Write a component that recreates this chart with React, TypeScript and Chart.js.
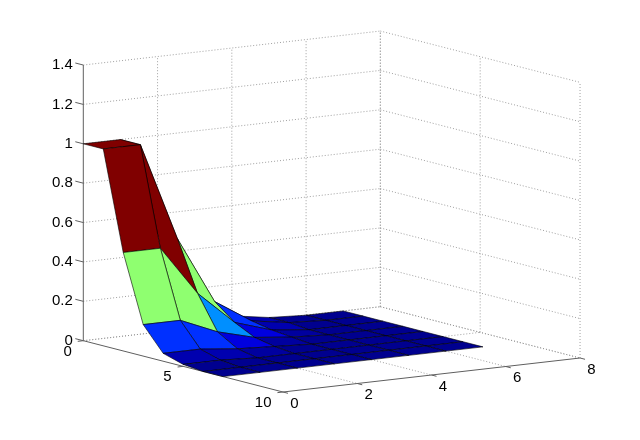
import React, { useEffect, useRef } from "react";
import { Chart, registerables } from "chart.js";

Chart.register(...registerables);

// ---- data ----
const X_VALUES = [0, 1, 2, 3, 4, 5, 6, 7];
const Y_VALUES = [0, 1, 2, 3, 4, 5, 6, 7];
const Z_ROW_0 = [1, 1, 0.5, 0.16, 0.04, 0.01, 0, 0];
const Z_ROW_1 = [1, 1, 0.5, 0.16, 0.04, 0.01, 0, 0];
const Z_ROW_2 = [0.5, 0.5, 0.25, 0.08, 0.02, 0, 0, 0];
const Z_ROW_3 = [0.16, 0.16, 0.08, 0.03, 0.01, 0, 0, 0];
const Z_ROW_4 = [0.04, 0.04, 0.02, 0.01, 0, 0, 0, 0];
const Z_ROW_5 = [0.01, 0.01, 0, 0, 0, 0, 0, 0];
const Z_ROW_6 = [0, 0, 0, 0, 0, 0, 0, 0];
const Z_ROW_7 = [0, 0, 0, 0, 0, 0, 0, 0];
const Z_ROWS = [Z_ROW_0, Z_ROW_1, Z_ROW_2, Z_ROW_3, Z_ROW_4, Z_ROW_5, Z_ROW_6, Z_ROW_7];

const X_TICKS = [0, 2, 4, 6, 8];
const Y_TICKS = [0, 5, 10];
const Z_TICKS = [0, 0.2, 0.4, 0.6, 0.8, 1, 1.2, 1.4];
const X_TICK_LABELS = ["0", "2", "4", "6", "8"];
const Y_TICK_LABELS = ["0", "5", "10"];
const Z_TICK_LABELS = ["0", "0.2", "0.4", "0.6", "0.8", "1", "1.2", "1.4"];
const X_LIM = [0, 8];
const Y_LIM = [0, 10];
const Z_LIM = [0, 1.4];
const COLOR_LIM = [0, 1];

// ---- view (layout, orthographic projection in pixel units) ----
const W = 640;
const H = 440;
const ORIGIN = { u: 83.3, v: 340.7 };
const EX = { u: 37.13, v: -4.25 };
const EY = { u: 19.97, v: 5.13 };
const EZ = { u: 0, v: -196.9 };

function project(x: number, y: number, z: number) {
  return {
    x: ORIGIN.u + x * EX.u + y * EY.u + z * EZ.u,
    y: ORIGIN.v + x * EX.v + y * EY.v + z * EZ.v,
  };
}

function jet(val: number) {
  const n = (val - COLOR_LIM[0]) / (COLOR_LIM[1] - COLOR_LIM[0]);
  const k = Math.max(1, Math.min(64, Math.floor(n * 64) + 1));
  const t = k / 64;
  const c = (a: number) => Math.round(255 * Math.max(0, Math.min(1, a)));
  const r = c(1.5 - Math.abs(4 * t - 3));
  const g = c(1.5 - Math.abs(4 * t - 2));
  const b = c(1.5 - Math.abs(4 * t - 1));
  return `rgb(${r},${g},${b})`;
}

const GRID_COLOR = "rgba(150,150,150,0.9)";
const AXIS_COLOR = "rgb(95,95,95)";

function lineDataset(pts: { x: number; y: number }[], color: string, dash: number[], width: number) {
  return {
    data: pts,
    borderColor: color,
    borderWidth: width,
    borderDash: dash,
    pointRadius: 0,
    fill: false,
    tension: 0,
  };
}

function buildDatasets() {
  const layers: any[] = [];
  const zTop = Z_LIM[1];
  for (const xv of X_TICKS) {
    if (xv !== X_LIM[0]) {
      // back wall (y = min) verticals
      layers.push(lineDataset([project(xv, Y_LIM[0], Z_LIM[0]), project(xv, Y_LIM[0], zTop)], GRID_COLOR, [1, 2], 1));
      // floor lines along y
      layers.push(lineDataset([project(xv, Y_LIM[0], Z_LIM[0]), project(xv, Y_LIM[1], Z_LIM[0])], GRID_COLOR, [1, 2], 1));
    }
  }
  for (const yv of Y_TICKS) {
    // right wall (x = max) verticals
    layers.push(lineDataset([project(X_LIM[1], yv, Z_LIM[0]), project(X_LIM[1], yv, zTop)], GRID_COLOR, [1, 2], 1));
    // floor lines along x
    if (yv !== Y_LIM[1]) {
      layers.push(lineDataset([project(X_LIM[0], yv, Z_LIM[0]), project(X_LIM[1], yv, Z_LIM[0])], GRID_COLOR, [1, 2], 1));
    }
  }
  for (const zv of Z_TICKS) {
    layers.push(lineDataset([project(X_LIM[0], Y_LIM[0], zv), project(X_LIM[1], Y_LIM[0], zv)], GRID_COLOR, [1, 2], 1));
    layers.push(lineDataset([project(X_LIM[1], Y_LIM[0], zv), project(X_LIM[1], Y_LIM[1], zv)], GRID_COLOR, [1, 2], 1));
  }
  // axis lines
  layers.push(lineDataset([project(X_LIM[0], Y_LIM[0], Z_LIM[0]), project(X_LIM[0], Y_LIM[0], Z_LIM[1])], AXIS_COLOR, [], 1));
  layers.push(lineDataset([project(X_LIM[0], Y_LIM[0], Z_LIM[0]), project(X_LIM[0], Y_LIM[1], Z_LIM[0])], AXIS_COLOR, [], 1));
  layers.push(lineDataset([project(X_LIM[0], Y_LIM[1], Z_LIM[0]), project(X_LIM[1], Y_LIM[1], Z_LIM[0])], AXIS_COLOR, [], 1));
  // ticks
  for (const zv of Z_TICKS) {
    layers.push(lineDataset([project(X_LIM[0], Y_LIM[0], zv), project(X_LIM[0], Y_LIM[0] - 0.4, zv)], AXIS_COLOR, [], 1));
  }
  for (const yv of Y_TICKS) {
    layers.push(lineDataset([project(X_LIM[0], yv, Z_LIM[0]), project(X_LIM[0] - 0.15, yv, Z_LIM[0])], AXIS_COLOR, [], 1));
  }
  for (const xv of X_TICKS) {
    layers.push(lineDataset([project(xv, Y_LIM[1], Z_LIM[0]), project(xv, Y_LIM[1] + 0.25, Z_LIM[0])], AXIS_COLOR, [], 1));
  }

  // surface faces, painter's order (far first)
  const faces: { key: number; ds: any }[] = [];
  for (let i = 0; i < Y_VALUES.length - 1; i++) {
    for (let j = 0; j < X_VALUES.length - 1; j++) {
      const x0 = X_VALUES[j], x1 = X_VALUES[j + 1];
      const y0 = Y_VALUES[i], y1 = Y_VALUES[i + 1];
      const p1 = project(x0, y0, Z_ROWS[i][j]);
      const p2 = project(x1, y0, Z_ROWS[i][j + 1]);
      const p3 = project(x1, y1, Z_ROWS[i + 1][j + 1]);
      const p4 = project(x0, y1, Z_ROWS[i + 1][j]);
      const key = project((x0 + x1) / 2, (y0 + y1) / 2, 0).y;
      faces.push({
        key,
        ds: {
          data: [p1, p2, p3, p4, p1],
          backgroundColor: jet(Z_ROWS[i][j]),
          borderColor: "rgb(0,0,0)",
          borderWidth: 0.6,
          pointRadius: 0,
          fill: "shape",
          tension: 0,
        },
      });
    }
  }
  faces.sort((a, b) => a.key - b.key);
  for (const f of faces) layers.push(f.ds);

  const n = layers.length;
  layers.forEach((d, idx) => {
    d.order = n - idx;
  });
  return layers;
}

const labelPlugin = {
  id: "axisLabels",
  afterDatasetsDraw(chart: any) {
    const ctx = chart.ctx;
    const sx = chart.scales.x;
    const sy = chart.scales.y;
    const px = (p: { x: number; y: number }) => ({ x: sx.getPixelForValue(p.x), y: sy.getPixelForValue(p.y) });
    ctx.save();
    ctx.fillStyle = "#000";
    ctx.font = '15px "Liberation Sans", Arial, sans-serif';
    ctx.textBaseline = "middle";
    ctx.textAlign = "right";
    Z_TICKS.forEach((zv, k) => {
      const p = px(project(X_LIM[0], Y_LIM[0], zv));
      ctx.fillText(Z_TICK_LABELS[k], p.x - 10.5, p.y);
    });
    Y_TICKS.forEach((yv, k) => {
      const p = px(project(X_LIM[0], yv, Z_LIM[0]));
      ctx.fillText(Y_TICK_LABELS[k], p.x - 11.5, p.y + 11);
    });
    ctx.textAlign = "center";
    X_TICKS.forEach((xv, k) => {
      const p = px(project(xv, Y_LIM[1], Z_LIM[0]));
      ctx.fillText(X_TICK_LABELS[k], p.x + 11.5, p.y + 11.5);
    });
    ctx.restore();
  },
};

export default function App() {
  const ref = useRef<HTMLCanvasElement | null>(null);
  useEffect(() => {
    document.body.style.margin = "0";
    const canvas = ref.current;
    if (!canvas) return;
    const chart = new Chart(canvas, {
      type: "line",
      data: { datasets: buildDatasets() as any },
      options: {
        animation: false,
        responsive: false,
        events: [],
        layout: { padding: 0 },
        scales: {
          x: { type: "linear", min: 0, max: W, display: false },
          y: { type: "linear", min: 0, max: H, reverse: true, display: false },
        },
        plugins: {
          legend: { display: false },
          tooltip: { enabled: false },
        },
      },
      plugins: [labelPlugin],
    });
    return () => chart.destroy();
  }, []);
  return (
    <div style={{ width: W, height: H, background: "#fff", overflow: "hidden" }}>
      <canvas ref={ref} width={W} height={H} style={{ display: "block" }} />
    </div>
  );
}
